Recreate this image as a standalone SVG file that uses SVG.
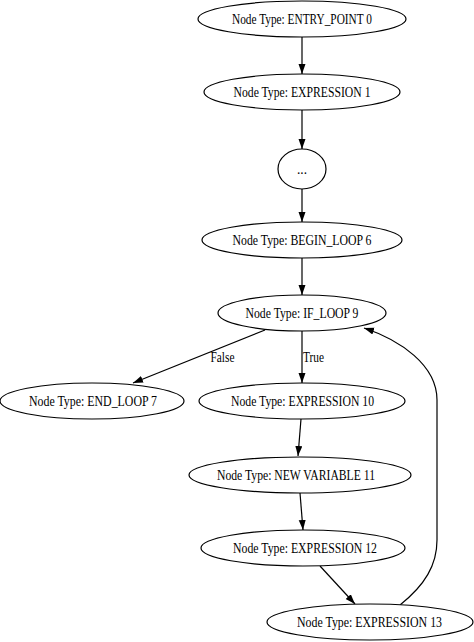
<svg xmlns="http://www.w3.org/2000/svg" width="474" height="642" viewBox="0 0 474 642">
<style>
.n ellipse{fill:#fff;stroke:#000;stroke-width:1.2}
.n text,.lbl{font-family:"Liberation Serif","Times New Roman",serif;font-size:14px;fill:#000;text-anchor:middle}
.e path{fill:none;stroke:#000;stroke-width:1.2}
</style>
<defs>
<marker id="ah" markerUnits="userSpaceOnUse" markerWidth="11" markerHeight="8" refX="10" refY="3.5" orient="auto">
<path d="M0,0 L10,3.5 L0,7 z" fill="#000"/>
</marker>
</defs>
<rect width="474" height="642" fill="#fff"/>
<g id="edges" class="e">
<path d="M302,37 L302,74" marker-end="url(#ah)"/>
<path d="M302,110 L302,149" marker-end="url(#ah)"/>
<path d="M302,189 L302,222" marker-end="url(#ah)"/>
<path d="M302,258 L302,295" marker-end="url(#ah)"/>
<path d="M265,330 L133,383" marker-end="url(#ah)"/>
<path d="M302,331 L302,383" marker-end="url(#ah)"/>
<path d="M301,419 L298,456" marker-end="url(#ah)"/>
<path d="M300,493 L303,530" marker-end="url(#ah)"/>
<path d="M320,566 L355,604" marker-end="url(#ah)"/>
<path d="M400,605 C425,585 437,565 437,540 L437,400 C437,365 400,340 364,328" marker-end="url(#ah)"/>
<text class="lbl" x="222.5" y="362" textLength="24" lengthAdjust="spacingAndGlyphs">False</text>
<text class="lbl" x="313.5" y="362" textLength="21" lengthAdjust="spacingAndGlyphs">True</text>
</g>
<g id="n0" class="n"><ellipse cx="302" cy="19" rx="104" ry="18"/><text x="302" y="24" textLength="140" lengthAdjust="spacingAndGlyphs">Node Type: ENTRY_POINT 0</text></g>
<g id="n1" class="n"><ellipse cx="302" cy="92" rx="98" ry="18"/><text x="302" y="97" textLength="137" lengthAdjust="spacingAndGlyphs">Node Type: EXPRESSION 1</text></g>
<g id="n2" class="n"><ellipse cx="302" cy="169" rx="24" ry="20"/><text x="302" y="174" textLength="10" lengthAdjust="spacingAndGlyphs">...</text></g>
<g id="n6" class="n"><ellipse cx="302" cy="240" rx="100" ry="18"/><text x="302" y="245" textLength="139" lengthAdjust="spacingAndGlyphs">Node Type: BEGIN_LOOP 6</text></g>
<g id="n9" class="n"><ellipse cx="302" cy="313" rx="84" ry="18"/><text x="302" y="318" textLength="113" lengthAdjust="spacingAndGlyphs">Node Type: IF_LOOP 9</text></g>
<g id="n7" class="n"><ellipse cx="92" cy="401" rx="92" ry="18"/><text x="93" y="406" textLength="128" lengthAdjust="spacingAndGlyphs">Node Type: END_LOOP 7</text></g>
<g id="n10" class="n"><ellipse cx="302" cy="401" rx="103" ry="18"/><text x="302.5" y="406" textLength="143" lengthAdjust="spacingAndGlyphs">Node Type: EXPRESSION 10</text></g>
<g id="n11" class="n"><ellipse cx="300" cy="475" rx="111" ry="18"/><text x="296" y="480" textLength="158" lengthAdjust="spacingAndGlyphs">Node Type: NEW VARIABLE 11</text></g>
<g id="n12" class="n"><ellipse cx="303" cy="548" rx="102" ry="18"/><text x="305" y="553" textLength="144" lengthAdjust="spacingAndGlyphs">Node Type: EXPRESSION 12</text></g>
<g id="n13" class="n"><ellipse cx="370" cy="622" rx="103" ry="18"/><text x="369.5" y="627" textLength="145" lengthAdjust="spacingAndGlyphs">Node Type: EXPRESSION 13</text></g>
</svg>
